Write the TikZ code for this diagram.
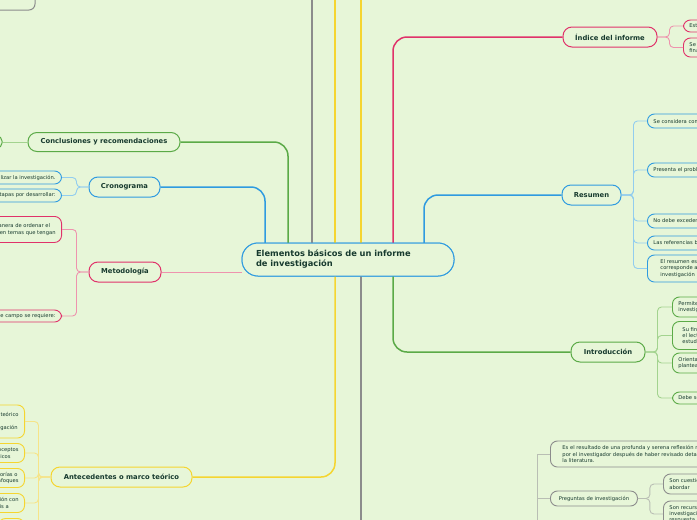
\documentclass[tikz,border=0pt]{standalone}
\usepackage{fontspec}
\setmainfont{DejaVu Sans}
\definecolor{bg}{HTML}{E7F6D8}
\definecolor{txt}{HTML}{173A2E}
\definecolor{cred}{HTML}{E0326A}
\definecolor{lred}{HTML}{EE93AE}
\definecolor{cblue}{HTML}{2F9BE0}
\definecolor{lblue}{HTML}{92CDEF}
\definecolor{cgreen}{HTML}{5BAA47}
\definecolor{lgreen}{HTML}{A3D38F}
\definecolor{cyel}{HTML}{F5D530}
\definecolor{lyel}{HTML}{F6E488}
\definecolor{cgray}{HTML}{8C8C8C}
\definecolor{lgray}{HTML}{B9BEB4}
\tikzset{
 topic/.style={draw, rounded corners=9pt, line width=1pt, fill=bg, text=txt,
   font=\bfseries\fontsize{6.8}{8}\selectfont, minimum height=20pt, inner xsep=6pt},
 sub/.style={draw, rounded corners=7pt, line width=0.9pt, fill=bg, text=txt,
   font=\fontsize{5.2}{6.4}\selectfont, align=left, inner xsep=6pt, inner ysep=3pt},
 central/.style={draw=cblue, line width=1pt, rounded corners=16pt, fill=bg, text=txt, minimum width=212pt, minimum height=33pt,
  font=\bfseries\fontsize{8.3}{10}\selectfont, align=left, text width=184pt},
 conn/.style={line width=1.5pt, rounded corners=14pt},
 sc/.style={line width=0.9pt, rounded corners=4pt}
}
\begin{document}
\begin{tikzpicture}[x=1pt,y=-1pt]
\useasboundingbox (0,0) rectangle (697,520);
\fill[bg] (0,0) rectangle (697,520);
\clip (0,0) rectangle (697,520);
\coordinate (gT) at (312,0);
\coordinate (y1T) at (335,0);
\coordinate (y2T) at (361,0);
\coordinate (gB) at (361,520);
\coordinate (gvB) at (537,520);
\coordinate (gvT) at (537,454);
\node[central] (c) at (348,259.5) {Elementos básicos de un informe\\de investigación};
\draw[conn,cgray] (312,243) -- (gT);
\draw[conn,cyel] (335,243) -- (y1T);
\draw[conn,cyel] (361,243) -- (y2T);
\draw[conn,cgray] (361,276) -- (gB);
% right topics
\node[topic, draw=cred, minimum width=94pt] (ind) at (610,37) {Índice del informe};
\node[topic, draw=cblue, minimum width=59pt] (res) at (591.5,195) {Resumen};
\node[topic, draw=cgreen, minimum width=74pt] (intro) at (608,352) {Introducción};
% left topics
\node[topic, draw=cgreen, minimum width=152pt, minimum height=19pt] (conc) at (104,142) {Conclusiones y recomendaciones};
\node[topic, draw=cblue, minimum width=71pt] (cron) at (124.5,187) {Cronograma};
\node[topic, draw=cred, minimum width=72pt] (met) at (125,272) {Metodología};
\node[topic, draw=cyel, minimum width=141pt] (ant) at (121.5,477) {Antecedentes o marco teórico};
\draw[conn,cred] (393,243) |- (ind.west);
\draw[conn,cblue] (424,243) |- (res.west);
\draw[conn,cgreen] (393,276) |- (intro.west);
\draw[conn,cgreen] (288,243) |- (conc.east);
\draw[conn,cblue] (265,243) |- (cron.east);
\draw[line width=1pt,lred] (c.west |- met) -- (met.east);
\draw[conn,cyel] (335,276) |- (ant.east);
\node[central] at (348,259.5) {Elementos básicos de un informe\\de investigación};
% Indice children
\node[sub, draw=cred, anchor=west, minimum height=12pt] (i1) at (683,26) {Estructura del informe};
\node[sub, draw=cred, anchor=west, minimum height=19pt] (i2) at (683,47.5) {Se presentan los títulos\\finales};
\foreach \n in {i1,i2} \draw[sc,lred] (ind.east) -- ++(12,0) |- (\n.west);
% Resumen children
\node[sub, draw=cblue, anchor=west, minimum height=14pt] (r1) at (647,121) {Se considera como una síntesis};
\node[sub, draw=cblue, anchor=west, minimum height=14pt] (r2) at (647,170) {Presenta el problema estudiado};
\node[sub, draw=cblue, anchor=west, minimum height=14pt] (r3) at (647,221) {No debe exceder las 300 palabras};
\node[sub, draw=cblue, anchor=west, minimum height=14pt] (r4) at (647,243) {Las referencias bibliográficas};
\node[sub, draw=cblue, anchor=west, minimum height=27pt, inner xsep=13pt] (r5) at (647,268.5) {El resumen es la parte que\\corresponde al informe de\\investigación};
\foreach \n in {r1,r2,r3,r4,r5} \draw[sc,lblue] (res.east) -- ++(12,0) |- (\n.west);
% Introduccion children
\node[sub, draw=cgreen, anchor=west, minimum height=20pt] (n1) at (672,307) {Permite conocer la\\investigación};
\node[sub, draw=cgreen, anchor=west, minimum height=28pt, inner xsep=10pt] (n2) at (672,335.5) {Su finalidad es informar\\el lector sobre el\\estudio};
\node[sub, draw=cgreen, anchor=west, minimum height=20pt] (n3) at (672,363) {Orienta sobre el\\planteamiento};
\node[sub, draw=cgreen, anchor=west, minimum height=12pt] (n4) at (672,398) {Debe ser breve};
\foreach \n in {n1,n2,n3,n4} \draw[sc,lgreen] (intro.east) -- ++(12,0) |- (\n.west);
% gray bottom right
\draw[sc,lgray] (gvT) -- (gvB);
\node[sub, draw=cgray, anchor=west, minimum height=26pt, inner xsep=12pt] (g1) at (550,454) {Es el resultado de una profunda y serena reflexión realizada\\por el investigador después de haber revisado detalladamente\\la literatura.};
\node[sub, draw=cgray, anchor=west, minimum height=15pt, minimum width=87pt] (g2) at (550,498.5) {Preguntas de investigación};
\node[sub, draw=cgray, anchor=west, minimum height=20pt] (g3) at (663,484) {Son cuestiones a\\abordar};
\node[sub, draw=cgray, anchor=west, minimum height=26pt] (g4) at (663,514) {Son recursos que guían la\\investigación, buscando\\respuesta};
\draw[sc,lgray] (gvT) -- (g1.west);
\draw[sc,lgray] (537,498.5) -- (g2.west);
\foreach \n in {g3,g4} \draw[sc,lgray] (g2.east) -- ++(12,0) |- (\n.west);
% left children
\node[sub, draw=cblue, anchor=east, minimum height=13pt] (cr1) at (62,177.5) {Tiempo necesario para realizar la investigación.};
\node[sub, draw=cblue, anchor=east, minimum height=13pt] (cr2) at (62,195.5) {Secuencia de las etapas por desarrollar:};
\foreach \n in {cr1,cr2} \draw[sc,lblue] (cron.west) -- ++(-12,0) |- (\n.east);
\node[sub, draw=cred, anchor=north east, minimum height=26pt, inner ysep=4pt] (m1) at (62,216) {Es la manera de ordenar el\\trabajo en temas que tengan};
\node[sub, draw=cred, anchor=east, minimum height=12pt] (m2) at (62,316) {Para el trabajo de campo se requiere:};
\foreach \n in {m1,m2} \draw[sc,lred] (met.west) -- ++(-12,0) |- (\n.east);
\node[draw=cgreen, line width=1pt, rounded corners=5pt, fill=bg, minimum width=20pt, minimum height=12pt] (cc) at (-8,142) {};
\draw[line width=0.9pt,lgreen] (cc.east) -- (conc.west);
\node[draw=cgray, line width=1pt, rounded corners=6pt, fill=bg, minimum width=80pt, minimum height=30pt] (tl) at (-5,-5) {};
\draw[line width=0.9pt,lgray] (35,-2) -- (50,-2);
% antecedentes children
\node[sub, draw=cyel, anchor=east, minimum height=33pt] (a1) at (25,421.5) {Marco teórico\\de la\\investigación};
\node[sub, draw=cyel, anchor=east, minimum height=19pt] (a2) at (25,453) {Conceptos\\básicos};
\node[sub, draw=cyel, anchor=east, minimum height=19pt] (a3) at (25,478) {Teorías o\\enfoques};
\node[sub, draw=cyel, anchor=east, minimum height=19pt] (a4) at (25,503) {Relación con\\la tesis a};
\node[sub, draw=cyel, anchor=east, minimum height=19pt] (a5) at (25,528) {Otros};
\foreach \n in {a1,a2,a3,a4,a5} \draw[sc,lyel] (ant.west) -- ++(-12,0) |- (\n.east);
\end{tikzpicture}
\end{document}
